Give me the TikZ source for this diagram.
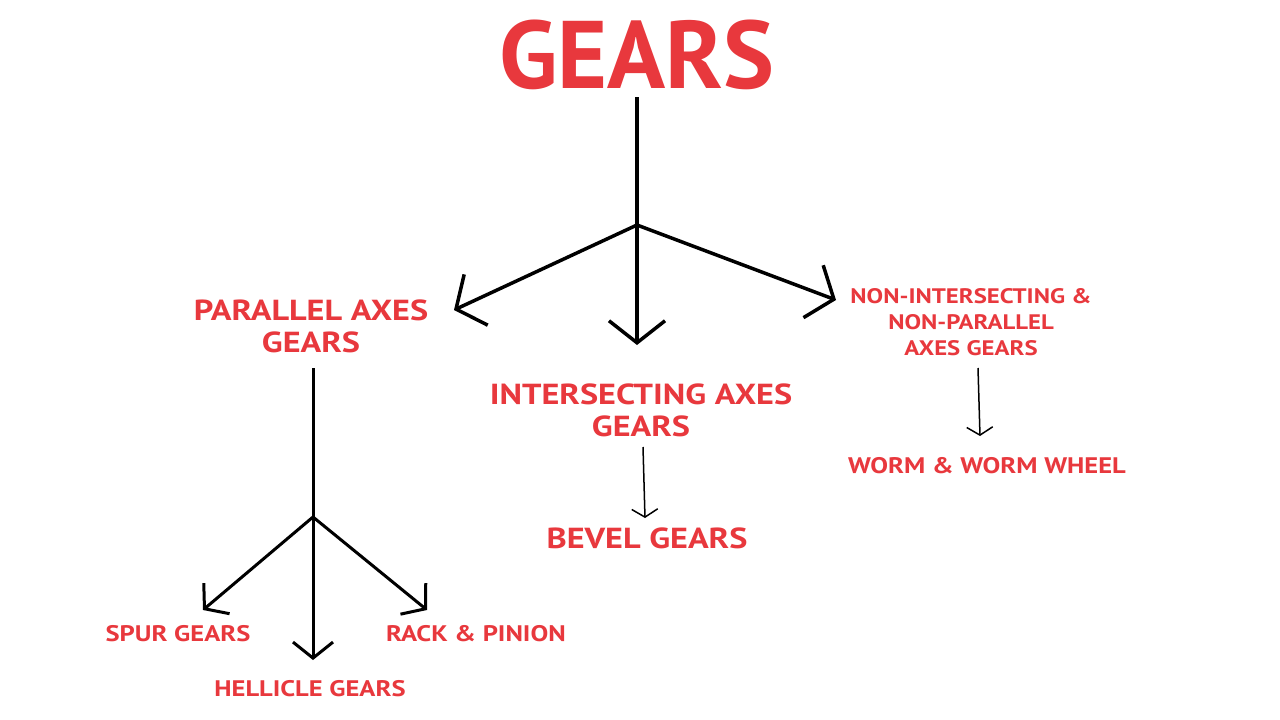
\documentclass[tikz,border=0pt]{standalone}
\usepackage{fontspec}
\setmainfont{PT Sans}
\newfontfamily\widefont[FakeStretch=1.18]{PT Sans}
\usetikzlibrary{arrows.meta}
\definecolor{gred}{HTML}{E8383D}
\begin{document}
\begin{tikzpicture}[x=1pt,y=-1pt,
  lbl/.style={text=gred,font=\widefont\bfseries\fontsize{29}{32}\selectfont,align=center,inner sep=0},
  slbl/.style={text=gred,font=\widefont\bfseries\fontsize{22.5}{26}\selectfont,align=center,inner sep=0},
  mlbl/.style={text=gred,font=\widefont\bfseries\fontsize{21}{26}\selectfont,align=center,inner sep=0},
  thick arr/.style={line width=3.5pt,-{Straight Barb[length=22pt,width=56pt,line width=3.5pt]}},
  small arr/.style={line width=3pt,-{Straight Barb[length=16pt,width=40pt,line width=3pt]}},
  thin arr/.style={line width=1.5pt,-{Straight Barb[length=8pt,width=26pt,line width=1.5pt]}}]
\useasboundingbox (0,0) rectangle (1280,720);
\fill[white] (0,0) rectangle (1280,720);
\node[text=gred,font=\bfseries\fontsize{96}{96}\selectfont,inner sep=0] (t) at (637,55) {GEARS};
\coordinate (top) at (637,97);
\coordinate (j1) at (637,225);
\draw[line width=3.5pt] (top) -- (j1);
\coordinate (e1) at (454,310);
\coordinate (e2) at (637,345);
\coordinate (e3) at (836,300);
\draw[thick arr] (j1) -- (e1);
\draw[thick arr] (j1) -- (e2);
\draw[thick arr] (j1) -- (e3);
\node[lbl] (pa) at (311,326) {PARALLEL AXES\\GEARS};
\node[lbl] (ia) at (641,410) {INTERSECTING AXES\\GEARS};
\node[mlbl] (ni) at (971,322) {NON-INTERSECTING \&\\NON-PARALLEL\\AXES GEARS};
\coordinate (p1) at (313,368);
\coordinate (j2) at (313,517);
\draw[line width=3pt] (p1) -- (j2);
\coordinate (f1) at (203,610);
\coordinate (f2) at (313,660);
\coordinate (f3) at (427,610);
\draw[small arr] (j2) -- (f1);
\draw[small arr] (j2) -- (f2);
\draw[small arr] (j2) -- (f3);
\node[slbl] (sp) at (178,634) {SPUR GEARS};
\node[slbl] (he) at (310,689) {HELLICLE GEARS};
\node[slbl] (rp) at (476,634) {RACK \& PINION};
\node[lbl] (bv) at (647,538) {BEVEL GEARS};
\node[slbl] (ww) at (987,466) {WORM \& WORM WHEEL};
\draw[thin arr] (643,447) -- (645,518);
\draw[thin arr] (978,368) -- (980,436);
\end{tikzpicture}
\end{document}
